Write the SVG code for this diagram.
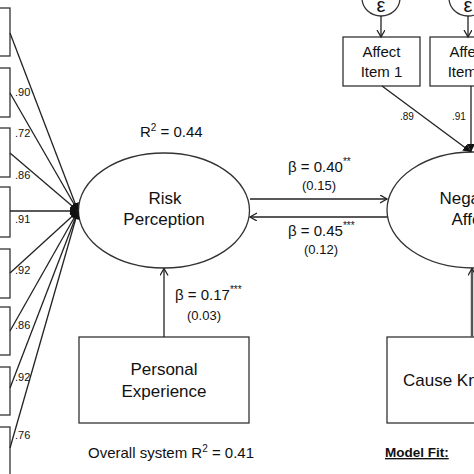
<svg xmlns="http://www.w3.org/2000/svg" width="474" height="474" viewBox="0 0 474 474">
<style>
.box{fill:#fff;stroke:#333;stroke-width:1.3}
.ell{fill:#fff;stroke:#333;stroke-width:1.3}
.ln{fill:none;stroke:#222;stroke-width:1.3}
.t{font-family:"Liberation Sans",Arial,sans-serif;fill:#111}
.n{font-size:17px;text-anchor:middle}
.s{font-size:15px}
.p{font-size:13px}
.w{font-size:11px}
</style>
<defs>
<marker id="open" markerWidth="10" markerHeight="10" refX="7" refY="4" orient="auto" markerUnits="userSpaceOnUse">
<path d="M0,0 L7,4 L0,8" fill="none" stroke="#222" stroke-width="1.3"/>
</marker>
<marker id="fill" markerWidth="10" markerHeight="10" refX="8" refY="4" orient="auto" markerUnits="userSpaceOnUse">
<path d="M0,0 L8,4 L0,8 z" fill="#111"/>
</marker>
</defs>
<rect width="474" height="474" fill="#fff"/>

<g id="indicators">
<rect class="box" x="-50" y="8" width="60" height="48"/>
<rect class="box" x="-50" y="68" width="60" height="49"/>
<rect class="box" x="-50" y="128" width="60" height="49"/>
<rect class="box" x="-50" y="187" width="60" height="50"/>
<rect class="box" x="-50" y="249" width="60" height="49"/>
<rect class="box" x="-50" y="307" width="60" height="48"/>
<rect class="box" x="-50" y="367" width="60" height="48"/>
<rect class="box" x="-50" y="427" width="60" height="60"/>
</g>

<g id="risk-perception">
<ellipse class="ell" cx="164" cy="210.5" rx="85.5" ry="57.5"/>
<text class="t n" x="165" y="204">Risk</text>
<text class="t n" x="164" y="225">Perception</text>
</g>

<g id="negative-affect">
<ellipse class="ell" cx="473" cy="210" rx="86" ry="58"/>
<text class="t n" x="473" y="204">Negative</text>
<text class="t n" x="473" y="225">Affect</text>
</g>

<g id="personal-experience">
<rect class="box" x="79" y="337" width="170" height="86"/>
<text class="t n" x="164" y="375">Personal</text>
<text class="t n" x="164" y="397">Experience</text>
</g>

<g id="cause-knowledge">
<rect class="box" x="387" y="337" width="170" height="86"/>
<text class="t n" x="472" y="386">Cause Knowledge</text>
</g>

<g id="eps1">
<ellipse class="ell" cx="381" cy="-2" rx="19" ry="18"/>
<text class="t" x="381" y="12" font-size="20" text-anchor="middle">ε</text>
</g>
<g id="eps2">
<ellipse class="ell" cx="468" cy="-2" rx="19" ry="18"/>
<text class="t" x="468" y="12" font-size="20" text-anchor="middle">ε</text>
</g>

<g id="affect-item-1">
<rect class="box" x="343" y="37" width="77" height="49"/>
<text class="t" x="381.5" y="57" font-size="15" text-anchor="middle">Affect</text>
<text class="t" x="381.5" y="77" font-size="15" text-anchor="middle">Item 1</text>
</g>
<g id="affect-item-2">
<rect class="box" x="430" y="37" width="77" height="49"/>
<text class="t" x="468.5" y="57" font-size="15" text-anchor="middle">Affect</text>
<text class="t" x="468.5" y="77" font-size="15" text-anchor="middle">Item 2</text>
</g>

<g id="connectors">
<line class="ln" x1="10" y1="33" x2="78" y2="211" marker-end="url(#fill)"/>
<line class="ln" x1="10" y1="93" x2="78" y2="211" marker-end="url(#fill)"/>
<line class="ln" x1="10" y1="153" x2="78" y2="211" marker-end="url(#fill)"/>
<line class="ln" x1="10" y1="211" x2="78" y2="211" marker-end="url(#fill)"/>
<line class="ln" x1="10" y1="273" x2="78" y2="211" marker-end="url(#fill)"/>
<line class="ln" x1="10" y1="331" x2="78" y2="211" marker-end="url(#fill)"/>
<line class="ln" x1="10" y1="388" x2="78" y2="211" marker-end="url(#fill)"/>
<line class="ln" x1="10" y1="448" x2="78" y2="211" marker-end="url(#fill)"/>
<line class="ln" x1="250" y1="199" x2="387" y2="199" marker-end="url(#open)"/>
<line class="ln" x1="387" y1="217" x2="250" y2="217" marker-end="url(#open)"/>
<line class="ln" x1="164" y1="337" x2="164" y2="268.5" marker-end="url(#open)"/>
<line class="ln" x1="472" y1="337" x2="472" y2="268.5" marker-end="url(#open)" style="stroke-width:2.5;stroke:#555"/>
<line class="ln" x1="381" y1="16" x2="381" y2="37" marker-end="url(#open)"/>
<line class="ln" x1="468" y1="16" x2="468" y2="37" marker-end="url(#open)"/>
<line class="ln" x1="382" y1="86" x2="471" y2="152" marker-end="url(#fill)"/>
<line class="ln" x1="471" y1="86" x2="471" y2="152" marker-end="url(#fill)"/>
</g>

<g id="labels">
<text class="t w" x="15" y="96">.90</text>
<text class="t w" x="15" y="137">.72</text>
<text class="t w" x="15" y="179">.86</text>
<text class="t w" x="15" y="223">.91</text>
<text class="t w" x="15" y="274">.92</text>
<text class="t w" x="15" y="329">.86</text>
<text class="t w" x="15" y="381">.92</text>
<text class="t w" x="15" y="439">.76</text>
<text class="t" x="400" y="120" font-size="10">.89</text>
<text class="t" x="452" y="120" font-size="10">.91</text>
<text class="t s" x="140" y="137">R<tspan dy="-6" font-size="10">2</tspan><tspan dy="6"> = 0.44</tspan></text>
<text class="t s" x="288" y="172">β = 0.40<tspan dy="-7" font-size="10">**</tspan></text>
<text class="t p" x="302" y="190">(0.15)</text>
<text class="t s" x="288" y="236">β = 0.45<tspan dy="-7" font-size="10">***</tspan></text>
<text class="t p" x="304" y="254">(0.12)</text>
<text class="t s" x="175" y="300">β = 0.17<tspan dy="-7" font-size="10">***</tspan></text>
<text class="t p" x="187" y="320">(0.03)</text>
<text class="t s" x="88" y="458">Overall system R<tspan dy="-6" font-size="10">2</tspan><tspan dy="6"> = 0.41</tspan></text>
<text class="t" x="385" y="457" font-size="13.5" font-weight="bold" text-decoration="underline">Model Fit:</text>
</g>
</svg>
